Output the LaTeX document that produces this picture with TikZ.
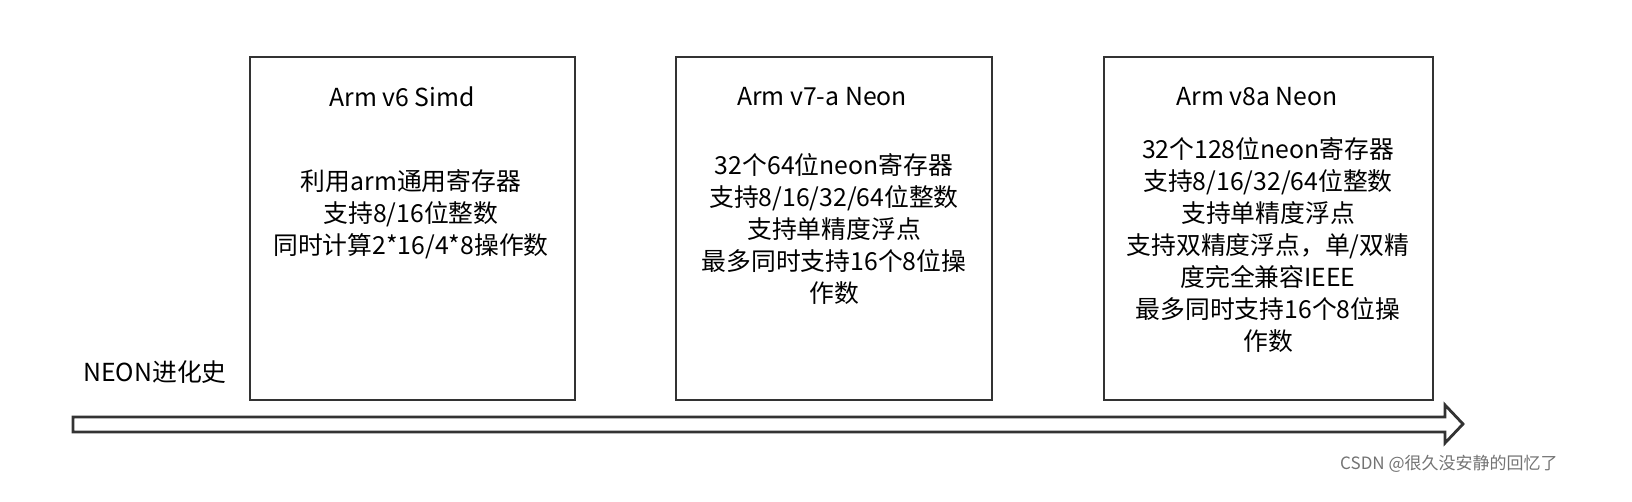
\documentclass[tikz,border=0pt]{standalone}
\usepackage{fontspec}
\setmainfont{Noto Sans CJK SC}
\begin{document}
\begin{tikzpicture}[x=0.5pt,y=-0.5pt]
\tikzset{box/.style={draw=black!80,line width=1.4pt},
 txt/.style={align=center,font=\fontsize{12.4pt}{16pt}\selectfont,inner sep=0pt}}
\useasboundingbox (0,0) rectangle (1632,502);
\draw[box] (250,57) rectangle (575,400);
\draw[box] (676,57) rectangle (992,400);
\draw[box] (1104,57) rectangle (1433,400);
\node[txt] (t1) at (402,97) {Arm v6 Simd};
\node[txt] (b1) at (411,214) {利用arm通用寄存器\\支持8/16位整数\\同时计算2*16/4*8操作数};
\node[txt] (t2) at (822,97) {Arm v7-a Neon};
\node[txt] (b2) at (834,229) {32个64位neon寄存器\\支持8/16/32/64位整数\\支持单精度浮点\\最多同时支持16个8位操\\作数};
\node[txt] (t3) at (1257,97) {Arm v8a Neon};
\node[txt] (b3) at (1268,245) {32个128位neon寄存器\\支持8/16/32/64位整数\\支持单精度浮点\\支持双精度浮点，单/双精\\度完全兼容IEEE\\最多同时支持16个8位操\\作数};
\node[txt,anchor=west] (n) at (83,372) {NEON进化史};
\draw[box,line join=miter] (73,417) -- (1445,417) -- (1445,405) -- (1463,424) -- (1445,443) -- (1445,432) -- (73,432) -- cycle;
\node[anchor=east,inner sep=0pt,text=black!55,font=\fontsize{8.5pt}{9pt}\selectfont] (w) at (1558,464) {CSDN @很久没安静的回忆了};
\end{tikzpicture}
\end{document}
